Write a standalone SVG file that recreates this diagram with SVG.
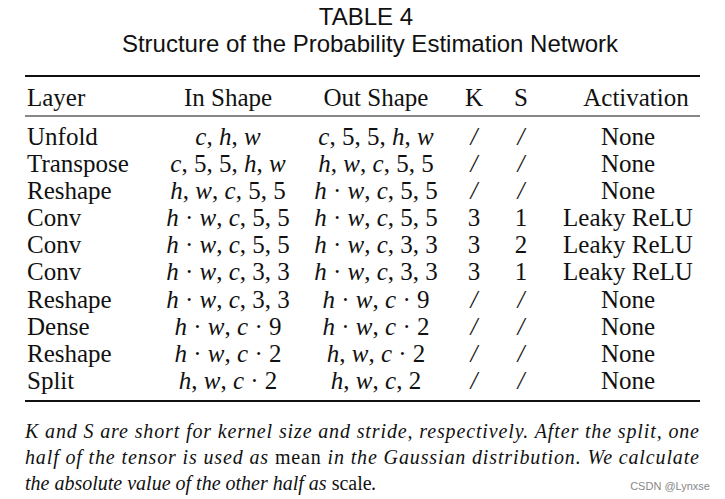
<svg xmlns="http://www.w3.org/2000/svg" width="725" height="499" viewBox="0 0 725 499">
<style>
.t{font-family:"Liberation Sans",Arial,sans-serif;font-size:24px;fill:#111;text-anchor:middle}
.c{font-family:"Liberation Serif","Times New Roman",serif;font-size:25px;fill:#111}
.m{text-anchor:middle}
.i{font-style:italic}
.cap{font-family:"Liberation Serif","Times New Roman",serif;font-size:20px;font-style:italic;fill:#111}
.n{font-style:normal}
line{stroke:#111}
</style>
<rect width="725" height="499" fill="#fff"/>
<text class="t" x="366" y="25">TABLE 4</text>
<text class="t" x="370" y="52">Structure of the Probability Estimation Network</text>
<line x1="25" y1="76" x2="700" y2="76" stroke-width="2"/>
<line x1="25" y1="116" x2="700" y2="116" stroke-width="1"/>
<line x1="25" y1="401" x2="700" y2="401" stroke-width="2"/>
<g class="c">
<text x="27" y="106">Layer</text>
<text class="m" x="228" y="106">In Shape</text>
<text class="m" x="376" y="106">Out Shape</text>
<text class="m" x="474" y="106">K</text>
<text class="m" x="521" y="106">S</text>
<text class="m" x="636" y="106">Activation</text>
</g>
<g class="c" id="rows">
<g id="r1"><text x="27" y="145">Unfold</text><text class="m" x="228" y="145"><tspan class="i">c</tspan>, <tspan class="i">h</tspan>, <tspan class="i">w</tspan></text><text class="m" x="376" y="145"><tspan class="i">c</tspan>, 5, 5, <tspan class="i">h</tspan>, <tspan class="i">w</tspan></text><text class="m i" x="474" y="145">/</text><text class="m i" x="521" y="145">/</text><text class="m" x="628" y="145">None</text></g>
<g id="r2"><text x="27" y="172">Transpose</text><text class="m" x="228" y="172"><tspan class="i">c</tspan>, 5, 5, <tspan class="i">h</tspan>, <tspan class="i">w</tspan></text><text class="m" x="376" y="172"><tspan class="i">h</tspan>, <tspan class="i">w</tspan>, <tspan class="i">c</tspan>, 5, 5</text><text class="m i" x="474" y="172">/</text><text class="m i" x="521" y="172">/</text><text class="m" x="628" y="172">None</text></g>
<g id="r3"><text x="27" y="199">Reshape</text><text class="m" x="228" y="199"><tspan class="i">h</tspan>, <tspan class="i">w</tspan>, <tspan class="i">c</tspan>, 5, 5</text><text class="m" x="376" y="199"><tspan class="i">h</tspan> · <tspan class="i">w</tspan>, <tspan class="i">c</tspan>, 5, 5</text><text class="m i" x="474" y="199">/</text><text class="m i" x="521" y="199">/</text><text class="m" x="628" y="199">None</text></g>
<g id="r4"><text x="27" y="226">Conv</text><text class="m" x="228" y="226"><tspan class="i">h</tspan> · <tspan class="i">w</tspan>, <tspan class="i">c</tspan>, 5, 5</text><text class="m" x="376" y="226"><tspan class="i">h</tspan> · <tspan class="i">w</tspan>, <tspan class="i">c</tspan>, 5, 5</text><text class="m" x="474" y="226">3</text><text class="m" x="521" y="226">1</text><text class="m" x="628" y="226">Leaky ReLU</text></g>
<g id="r5"><text x="27" y="253">Conv</text><text class="m" x="228" y="253"><tspan class="i">h</tspan> · <tspan class="i">w</tspan>, <tspan class="i">c</tspan>, 5, 5</text><text class="m" x="376" y="253"><tspan class="i">h</tspan> · <tspan class="i">w</tspan>, <tspan class="i">c</tspan>, 3, 3</text><text class="m" x="474" y="253">3</text><text class="m" x="521" y="253">2</text><text class="m" x="628" y="253">Leaky ReLU</text></g>
<g id="r6"><text x="27" y="280">Conv</text><text class="m" x="228" y="280"><tspan class="i">h</tspan> · <tspan class="i">w</tspan>, <tspan class="i">c</tspan>, 3, 3</text><text class="m" x="376" y="280"><tspan class="i">h</tspan> · <tspan class="i">w</tspan>, <tspan class="i">c</tspan>, 3, 3</text><text class="m" x="474" y="280">3</text><text class="m" x="521" y="280">1</text><text class="m" x="628" y="280">Leaky ReLU</text></g>
<g id="r7"><text x="27" y="308">Reshape</text><text class="m" x="228" y="308"><tspan class="i">h</tspan> · <tspan class="i">w</tspan>, <tspan class="i">c</tspan>, 3, 3</text><text class="m" x="376" y="308"><tspan class="i">h</tspan> · <tspan class="i">w</tspan>, <tspan class="i">c</tspan> · 9</text><text class="m i" x="474" y="308">/</text><text class="m i" x="521" y="308">/</text><text class="m" x="628" y="308">None</text></g>
<g id="r8"><text x="27" y="335">Dense</text><text class="m" x="228" y="335"><tspan class="i">h</tspan> · <tspan class="i">w</tspan>, <tspan class="i">c</tspan> · 9</text><text class="m" x="376" y="335"><tspan class="i">h</tspan> · <tspan class="i">w</tspan>, <tspan class="i">c</tspan> · 2</text><text class="m i" x="474" y="335">/</text><text class="m i" x="521" y="335">/</text><text class="m" x="628" y="335">None</text></g>
<g id="r9"><text x="27" y="362">Reshape</text><text class="m" x="228" y="362"><tspan class="i">h</tspan> · <tspan class="i">w</tspan>, <tspan class="i">c</tspan> · 2</text><text class="m" x="376" y="362"><tspan class="i">h</tspan>, <tspan class="i">w</tspan>, <tspan class="i">c</tspan> · 2</text><text class="m i" x="474" y="362">/</text><text class="m i" x="521" y="362">/</text><text class="m" x="628" y="362">None</text></g>
<g id="r10"><text x="27" y="389">Split</text><text class="m" x="228" y="389"><tspan class="i">h</tspan>, <tspan class="i">w</tspan>, <tspan class="i">c</tspan> · 2</text><text class="m" x="376" y="389"><tspan class="i">h</tspan>, <tspan class="i">w</tspan>, <tspan class="i">c</tspan>, 2</text><text class="m i" x="474" y="389">/</text><text class="m i" x="521" y="389">/</text><text class="m" x="628" y="389">None</text></g>
</g>
<g class="cap">
<text x="25" y="438" textLength="674" lengthAdjust="spacing">K and S are short for kernel size and stride, respectively. After the split, one</text>
<text x="25" y="464" textLength="674" lengthAdjust="spacing">half of the tensor is used as <tspan class="n">mean</tspan> in the Gaussian distribution. We calculate</text>
<text x="25" y="490">the absolute value of the other half as <tspan class="n">scale</tspan>.</text>
</g>
<text x="710" y="490" text-anchor="end" style="font-family:'Liberation Sans',Arial,sans-serif;font-size:11px;fill:#888">CSDN @Lynxse</text>
</svg>
